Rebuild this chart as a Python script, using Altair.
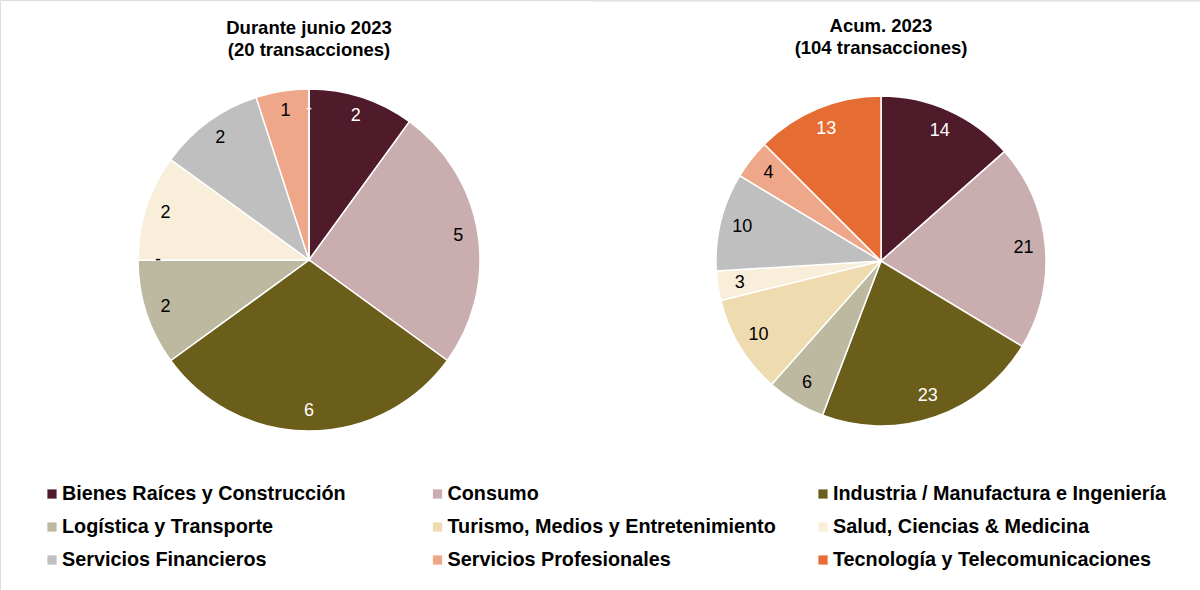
import altair as alt
import pandas as pd

categories = [
    "Bienes Raíces y Construcción",
    "Consumo",
    "Industria / Manufactura e Ingeniería",
    "Logística y Transporte",
    "Turismo, Medios y Entretenimiento",
    "Salud, Ciencias & Medicina",
    "Servicios Financieros",
    "Servicios Profesionales",
    "Tecnología y Telecomunicaciones",
]
colors = ["#4F1A2A", "#C9ADAF", "#6B5E1A", "#BDB9A0", "#EFDBB0",
          "#F8EEDA", "#C0BFBF", "#EFA78A", "#E56C32"]
white_text = [True, False, True, False, False, False, False, False, True]

junio_values = [2, 5, 6, 2, 0, 2, 2, 1, 0]
acum_values = [14, 21, 23, 6, 10, 3, 10, 4, 13]

left_title = ["Durante junio 2023", "(20 transacciones)"]
right_title = ["Acum. 2023", "(104 transacciones)"]

legend_col = [0, 1, 2, 0, 1, 2, 0, 1, 2]
legend_row = [0, 0, 0, 1, 1, 1, 2, 2, 2]

FONT = "Liberation Sans"

def make_df(values):
    return pd.DataFrame({
        "category": categories,
        "value": values,
        "idx": list(range(len(categories))),
        "label": [str(v) if v > 0 else "-" for v in values],
        "white": white_text,
    })

color_scale = alt.Scale(domain=categories, range=colors)

def pie(values, cx, cy, r, lr):
    df = make_df(values)
    base = alt.Chart(df)
    theta = alt.Theta("value:Q", stack="normalize")
    arc = base.mark_arc(x=cx, y=cy, outerRadius=r, stroke="white", strokeWidth=1.5).encode(
        theta=theta,
        color=alt.Color("category:N", scale=color_scale, legend=None),
        order=alt.Order("idx:Q"),
    )
    txt = base.mark_text(
        x=cx, y=cy, radius=lr, fontSize=18, font=FONT
    ).encode(
        theta=theta,
        text="label:N",
        order=alt.Order("idx:Q"),
        color=alt.condition("datum.white", alt.value("white"), alt.value("black")),
    )
    return alt.layer(arc, txt)

left = pie(junio_values, 309, 260, 171, 151)
right = pie(acum_values, 881, 261, 165, 143)

def title(lines, cx, y0):
    df = pd.DataFrame({"t": lines, "i": [0, 1]})
    layers = []
    for i, line in enumerate(lines):
        layers.append(
            alt.Chart(df.iloc[[i]]).mark_text(
                fontSize=18.5, fontWeight="bold", font=FONT, color="black", baseline="middle"
            ).encode(text="t:N", x=alt.value(cx), y=alt.value(y0 + 22 * i))
        )
    return alt.layer(*layers)

t_left = title(left_title, 309, 28)
t_right = title(right_title, 881, 26)

leg_df = pd.DataFrame({
    "category": categories,
    "col": legend_col,
    "row": legend_row,
})
xs = alt.X("col:Q", scale=alt.Scale(domain=[0, 2], range=[52, 823], nice=False, zero=False), axis=None)
ys = alt.Y("row:Q", scale=alt.Scale(domain=[0, 2], range=[494, 560], nice=False, zero=False), axis=None)
leg_sq = alt.Chart(leg_df).mark_square(size=85, opacity=1).encode(
    x=xs, y=ys, color=alt.Color("category:N", scale=color_scale, legend=None)
)
leg_tx = alt.Chart(leg_df).mark_text(
    align="left", baseline="middle", dx=10, fontSize=19.8, fontWeight="bold", font=FONT, color="black"
).encode(x=xs, y=ys, text="category:N")

border = alt.Chart(pd.DataFrame({"a": [0]})).mark_rule(color="#E3E3E3", strokeWidth=1.5).encode(
    x=alt.value(593), x2=alt.value(1200), y=alt.value(1)
)

chart = alt.layer(left, right, t_left, t_right, leg_sq, leg_tx, border).resolve_scale(
    theta="independent"
).properties(
    width=1200, height=590, padding=0,
    autosize=alt.AutoSizeParams(type="none"),
).configure_view(stroke=None).configure(background="white")

chart.save("out.html", embed_options={"renderer": "svg", "actions": False})
